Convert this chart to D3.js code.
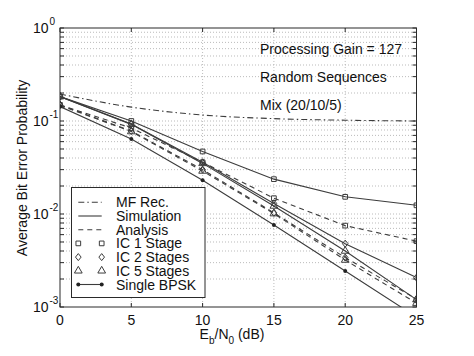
<!DOCTYPE html>
<html><head><meta charset="utf-8">
<script src="https://cdn.jsdelivr.net/npm/d3@7"></script>
<style>
body{margin:0;background:#fff;}
svg{display:block;font-family:"Liberation Sans",Arial,Helvetica,sans-serif;}
</style></head><body>
<svg id="chart" width="474" height="356"></svg>
<script>
const snr = [0, 5, 10, 15, 20, 25];
const mfRec = [0.195, 0.141, 0.116, 0.106, 0.102, 0.100];
const ic1Sim = [0.183, 0.100, 0.047, 0.0237, 0.0153, 0.0124];
const ic2Sim = [0.183, 0.093, 0.036, 0.0130, 0.0048, 0.00207];
const ic5Sim = [0.183, 0.092, 0.035, 0.0122, 0.0040, 0.00120];
const ic1Ana = [0.149, 0.084, 0.036, 0.0148, 0.0075, 0.0051];
const ic2Ana = [0.149, 0.078, 0.030, 0.0103, 0.0034, 0.00122];
const ic5Ana = [0.147, 0.077, 0.029, 0.0101, 0.0032, 0.00110];
const bpsk = [0.143, 0.064, 0.0231, 0.0076, 0.00244, 0.00078];
const xTicks = [0, 5, 10, 15, 20, 25];
const yDecades = [-3, -2, -1, 0];
const legendLabels = ["MF Rec.", "Simulation", "Analysis", "IC 1 Stage", "IC 2 Stages", "IC 5 Stages", "Single BPSK"];
const notes = ["Processing Gain = 127", "Random Sequences", "Mix (20/10/5)"];

const svg = d3.select("#chart");
const L = 60, R = 416.5, T = 28, B = 307;
const x = d3.scaleLinear().domain([0, 25]).range([L, R]);
const y = d3.scaleLog().domain([1e-3, 1]).range([B, T]);
const ink = "#2a2a2a";
const lineCol = "#3c3c3c";

svg.append("defs").append("clipPath").attr("id", "clip")
  .append("rect").attr("x", L).attr("y", T).attr("width", R - L).attr("height", B - T);

// grid
const minorVals = [];
for (let e = -3; e < 0; e++) for (let m = 1; m <= 9; m++) minorVals.push(m * Math.pow(10, e));
const g = svg.append("g");
g.selectAll(".hg").data(minorVals.filter(v => v > 1e-3)).enter().append("line")
  .attr("x1", L).attr("x2", R).attr("y1", d => y(d)).attr("y2", d => y(d))
  .attr("stroke", "#aaa").attr("stroke-width", 0.8).attr("stroke-dasharray", "1,2");
g.selectAll(".vg").data(xTicks.slice(1, -1)).enter().append("line")
  .attr("x1", d => x(d)).attr("x2", d => x(d)).attr("y1", T).attr("y2", B)
  .attr("stroke", "#aaa").attr("stroke-width", 0.8).attr("stroke-dasharray", "1,2");

// lines
const plot = svg.append("g").attr("clip-path", "url(#clip)");
const lineGen = d3.line().x((d, i) => x(snr[i])).y(d => y(d));
const curveGen = d3.line().x((d, i) => x(snr[i])).y(d => y(d)).curve(d3.curveMonotoneX);
function drawLine(data, dash, gen) {
  plot.append("path").datum(data).attr("d", gen || lineGen)
    .attr("fill", "none").attr("stroke", lineCol).attr("stroke-width", 1.1)
    .attr("stroke-dasharray", dash || null);
}
drawLine(mfRec, "6,3,1.5,3", curveGen);
drawLine(ic1Ana, "5,4");
drawLine(ic2Ana, "5,4");
drawLine(ic5Ana, "5,4");
drawLine(ic1Sim);
drawLine(ic2Sim);
drawLine(ic5Sim);
drawLine(bpsk);

// markers
const wideDiamond = { draw(ctx, size) { const h = Math.sqrt(size) * 0.75, w = h * 0.8;
  ctx.moveTo(0, -h); ctx.lineTo(w, 0); ctx.lineTo(0, h); ctx.lineTo(-w, 0); ctx.closePath(); } };
const symSquare = d3.symbol().type(d3.symbolSquare).size(22);
const symDiamond = d3.symbol().type(wideDiamond).size(22);
const symTriangle = d3.symbol().type(d3.symbolTriangle).size(26);
function drawMarkers(data, sym) {
  plot.selectAll(null).data(data).enter().append("path")
    .attr("d", sym).attr("transform", (d, i) => `translate(${x(snr[i])},${y(d)})`)
    .attr("fill", "none").attr("stroke", lineCol).attr("stroke-width", 1);
}
drawMarkers(ic1Sim, symSquare);
drawMarkers(ic1Ana, symSquare);
drawMarkers(ic2Sim, symDiamond);
drawMarkers(ic2Ana, symDiamond);
drawMarkers(ic5Sim, symTriangle);
drawMarkers(ic5Ana, symTriangle);
plot.selectAll(null).data(bpsk).enter().append("circle")
  .attr("cx", (d, i) => x(snr[i])).attr("cy", d => y(d)).attr("r", 2).attr("fill", "#222");

// axes box and ticks
svg.append("rect").attr("x", L).attr("y", T).attr("width", R - L).attr("height", B - T)
  .attr("fill", "none").attr("stroke", ink).attr("stroke-width", 1);
const tk = svg.append("g").attr("stroke", ink).attr("stroke-width", 1);
xTicks.forEach(v => {
  tk.append("line").attr("x1", x(v)).attr("x2", x(v)).attr("y1", B).attr("y2", B - 4);
  tk.append("line").attr("x1", x(v)).attr("x2", x(v)).attr("y1", T).attr("y2", T + 4);
});
minorVals.concat([1]).forEach(v => {
  tk.append("line").attr("x1", L).attr("x2", L + 4).attr("y1", y(v)).attr("y2", y(v));
  tk.append("line").attr("x1", R).attr("x2", R - 4).attr("y1", y(v)).attr("y2", y(v));
});

// x tick labels
svg.selectAll(".xl").data(xTicks).enter().append("text")
  .attr("x", d => x(d)).attr("y", 324.5).attr("text-anchor", "middle")
  .attr("font-size", 14).attr("fill", "#111").text(d => d);

// y tick labels
yDecades.forEach(e => {
  const yy = y(Math.pow(10, e));
  svg.append("text").attr("x", 48.5).attr("y", yy + 5).attr("text-anchor", "end")
    .attr("font-size", 14).attr("fill", "#111").text("10");
  svg.append("text").attr("x", 49.5).attr("y", yy - 3).attr("font-size", 10)
    .attr("fill", "#111").text(e === 0 ? "0" : "-" + Math.abs(e));
});

// x label
const xl = svg.append("text").attr("x", 232).attr("y", 338.5).attr("text-anchor", "middle")
  .attr("font-size", 14).attr("fill", "#111");
xl.append("tspan").text("E");
xl.append("tspan").attr("font-size", 10).attr("dy", 5).text("b");
xl.append("tspan").attr("dy", -5).text("/N");
xl.append("tspan").attr("font-size", 10).attr("dy", 5).text("0");
xl.append("tspan").attr("dy", -5).text(" (dB)");

// y label
svg.append("text").attr("transform", "translate(27,168) rotate(-90)")
  .attr("text-anchor", "middle").attr("font-size", 14).attr("fill", "#111")
  .text("Average Bit Error Probability");

// notes
notes.forEach((s, i) => {
  svg.append("text").attr("x", 260).attr("y", 53.5 + i * 28.2)
    .attr("font-size", 14).attr("fill", "#111").text(s);
});

// legend
const lg = svg.append("g");
lg.append("rect").attr("x", 71.5).attr("y", 187.5).attr("width", 133.5).attr("height", 110)
  .attr("fill", "#fff").attr("stroke", ink).attr("stroke-width", 1);
const ly0 = 202.3, ldy = 13.7, lx1 = 78.3, lx2 = 101.7;
legendLabels.forEach((s, i) => {
  lg.append("text").attr("x", 116).attr("y", ly0 + i * ldy + 5).attr("font-size", 14)
    .attr("fill", "#111").text(s);
});
function legLine(i, dash) {
  lg.append("line").attr("x1", lx1).attr("x2", lx2).attr("y1", ly0 + i * ldy).attr("y2", ly0 + i * ldy)
    .attr("stroke", lineCol).attr("stroke-width", 1.1).attr("stroke-dasharray", dash || null);
}
legLine(0, "6,3,1.5,3");
legLine(1);
legLine(2, "5,4");
[[3, symSquare], [4, symDiamond], [5, symTriangle]].forEach(([i, sym]) => {
  [lx1, lx2].forEach(xx => {
    lg.append("path").attr("d", sym).attr("transform", `translate(${xx},${ly0 + i * ldy})`)
      .attr("fill", "none").attr("stroke", lineCol).attr("stroke-width", 1);
  });
});
legLine(6);
[lx1, lx2].forEach(xx => lg.append("circle").attr("cx", xx).attr("cy", ly0 + 6 * ldy).attr("r", 2).attr("fill", "#222"));
</script>
</body></html>
